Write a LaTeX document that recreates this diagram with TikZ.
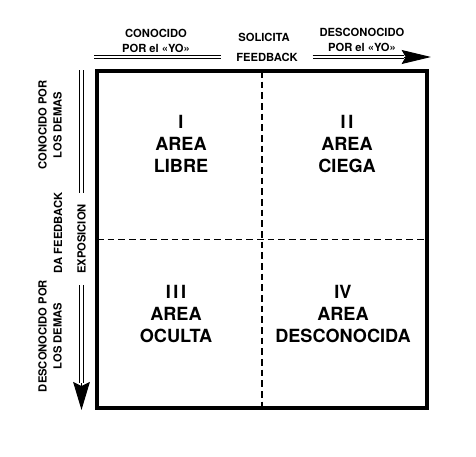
\documentclass[tikz,border=0pt]{standalone}
\usepackage{fontspec}
\setmainfont{TeX Gyre Heros}
\usetikzlibrary{arrows.meta,positioning,calc}
\tikzset{
  quad/.style={font=\fontsize{13.6}{16.5}\selectfont\bfseries,align=center,inner sep=0pt},
  axlbl/.style={font=\fontsize{8.4}{11.2}\selectfont\bfseries,align=center,inner sep=1pt},
  dbl/.style={double,line width=0.7pt,double distance=2pt},
  tip/.style={line width=0.7pt,-{Stealth[length=22pt,width=10.5pt,inset=3pt]}},
  frame/.style={line width=3pt},
  divider/.style={line width=1.2pt,dash pattern=on 5pt off 3pt},
}
\begin{document}
\begin{tikzpicture}[x=0.75pt,y=-0.75pt]
  \useasboundingbox (0,0) rectangle (476,457);
  % window frame and dividers
  \coordinate (nw) at (97,71);
  \coordinate (se) at (427,408);
  \coordinate (n) at (262,71);
  \coordinate (s) at (262,408);
  \coordinate (w) at (97,239.5);
  \coordinate (e) at (427,239.5);
  \draw[frame] (nw) rectangle (se);
  \draw[divider] (n) -- (s);
  \draw[divider] (w) -- (e);

  % quadrants
  \node[quad] (libre)  at (181,144) {I\\AREA\\LIBRE};
  \node[quad] (ciega)  at (347,144) {I\kern2pt I\\AREA\\CIEGA};
  \node[quad] (oculta) at (176,314) {I\kern2pt I\kern2pt I\\AREA\\OCULTA};
  \node[quad] (desc)   at (343,314) {IV\\AREA\\DESCONOCIDA};

  % top axis
  \node[axlbl] (yoknown)   at (156,41) {CONOCIDO\\POR el «YO»};
  \node[axlbl] (younknown) at (362,40) {DESCONOCIDO\\POR el «YO»};
  \node[axlbl] (solicita)  at (264,37) {SOLICITA};
  \node[axlbl,inner xsep=11pt,inner ysep=0pt] (fbtop) at (267,57) {FEEDBACK};
  \coordinate (topstart) at (94,57);
  \coordinate (topbase) at (404,57);
  \coordinate (toptip) at (431,57);
  \draw[dbl] (topstart) -- (fbtop.west);
  \draw[dbl] (fbtop.east) -- (topbase);
  \draw[tip] (topbase) -- (toptip);

  % left axis
  \node[axlbl,rotate=90] (othersknown)   at (50,125) {CONOCIDO POR\\LOS DEMAS};
  \node[axlbl,rotate=90] (othersunknown) at (50,336) {DESCONOCIDO POR\\LOS DEMAS};
  \node[axlbl,rotate=90] (dafb) at (58,233) {DA FEEDBACK};
  \node[axlbl,rotate=90,inner xsep=8pt,inner ysep=0pt] (expo) at (81.5,239) {EXPOSICION};
  \coordinate (leftstart) at (81.5,70);
  \coordinate (leftbase) at (81.5,383);
  \coordinate (lefttip) at (81.5,410);
  \draw[dbl] (leftstart) -- (expo.east);
  \draw[dbl] (expo.west) -- (leftbase);
  \draw[tip,-{Stealth[length=21pt,width=12.5pt,inset=3pt]}] (leftbase) -- (lefttip);
\end{tikzpicture}
\end{document}
